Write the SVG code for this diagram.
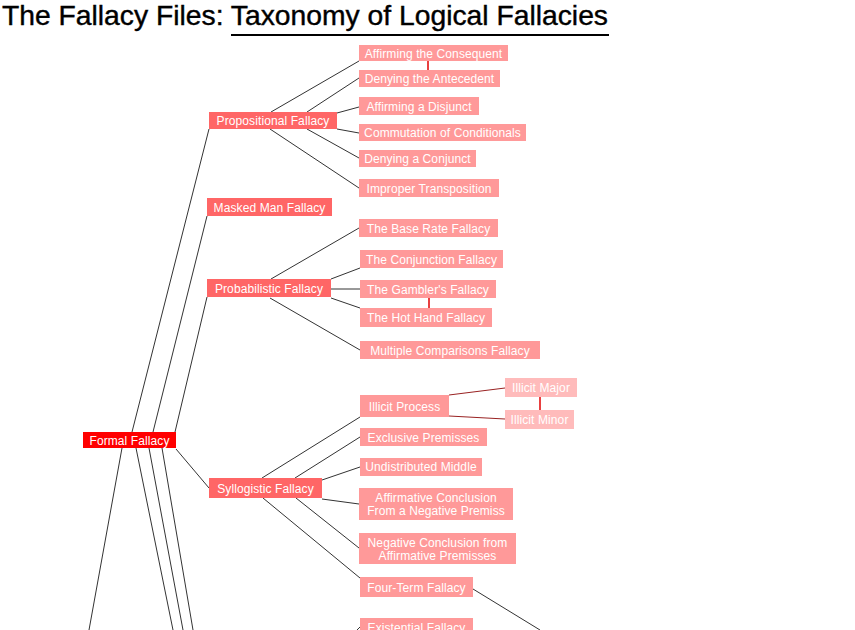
<svg xmlns="http://www.w3.org/2000/svg" width="855" height="630" viewBox="0 0 855 630">
<style>
text{font-family:"Liberation Sans",Arial,sans-serif}
.t{font-size:12px;fill:#fff;text-anchor:middle;letter-spacing:0.1px}
.r0{fill:#ff0000}.r1{fill:#ff6666}.r2{fill:#ff9999}.r3{fill:#ffbbbb}
.c line{stroke:#333;stroke-width:1}
.c .red{stroke:#e00000;stroke-width:1.5}
.c .dr{stroke:#992222;stroke-width:1}
</style>
<rect width="855" height="630" fill="#fff"/>
<text x="2" y="25" font-size="28" fill="#000" stroke="#000" stroke-width="0.4" textLength="606" lengthAdjust="spacingAndGlyphs">The Fallacy Files: Taxonomy of Logical Fallacies</text>
<line x1="231" y1="35" x2="609" y2="35" stroke="#000" stroke-width="2"/>
<g class="c" id="connectors">
<line x1="132" y1="432" x2="209" y2="129"/>
<line x1="153" y1="432" x2="207" y2="216"/>
<line x1="175" y1="432" x2="207" y2="297"/>
<line x1="176" y1="449" x2="209" y2="488"/>
<line x1="122" y1="448" x2="89" y2="630"/>
<line x1="136" y1="448" x2="173" y2="630"/>
<line x1="149" y1="448" x2="183" y2="630"/>
<line x1="162" y1="448" x2="193" y2="630"/>
<line x1="271" y1="112" x2="359" y2="61"/>
<line x1="307" y1="112" x2="359" y2="78"/>
<line x1="337" y1="113" x2="359" y2="107"/>
<line x1="337" y1="129" x2="359" y2="133"/>
<line x1="307" y1="129" x2="359" y2="158"/>
<line x1="270" y1="129" x2="359" y2="188"/>
<line x1="271" y1="279" x2="359" y2="228"/>
<line x1="331" y1="279" x2="360" y2="268"/>
<line x1="331" y1="289" x2="360" y2="289"/>
<line x1="331" y1="298" x2="360" y2="308"/>
<line x1="270" y1="298" x2="360" y2="350"/>
<line x1="262" y1="478" x2="360" y2="417"/>
<line x1="295" y1="478" x2="360" y2="437"/>
<line x1="322" y1="480" x2="360" y2="467"/>
<line x1="322" y1="499" x2="359" y2="504"/>
<line x1="296" y1="498" x2="359" y2="548"/>
<line x1="263" y1="498" x2="360" y2="578"/>
<line x1="357" y1="630" x2="360" y2="627"/>
<line x1="473" y1="589" x2="540" y2="630"/>
<line class="dr" x1="449" y1="395" x2="505" y2="388"/>
<line class="dr" x1="449" y1="416" x2="505" y2="419"/>
<line class="red" x1="428" y1="61" x2="428" y2="70"/>
<line class="red" x1="429" y1="298" x2="429" y2="308"/>
<line class="red" x1="540" y1="397" x2="540" y2="410"/>
</g>
<g id="formal"><rect class="r0" x="83" y="432" width="93" height="16"/><text class="t" x="129.5" y="444.5">Formal Fallacy</text></g>
<g id="propositional"><rect class="r1" x="209" y="112" width="128" height="17"/><text class="t" x="273" y="125">Propositional Fallacy</text></g>
<g id="masked"><rect class="r1" x="207" y="198" width="125" height="18"/><text class="t" x="269.5" y="211.5">Masked Man Fallacy</text></g>
<g id="probabilistic"><rect class="r1" x="207" y="279" width="124" height="18"/><text class="t" x="269" y="292.5">Probabilistic Fallacy</text></g>
<g id="syllogistic"><rect class="r1" x="209" y="478" width="113" height="20"/><text class="t" x="265.5" y="492.5">Syllogistic Fallacy</text></g>
<g id="aff-cons"><rect class="r2" x="359" y="45" width="149" height="16"/><text class="t" x="433.5" y="57.5">Affirming the Consequent</text></g>
<g id="deny-ante"><rect class="r2" x="359" y="70" width="141" height="17"/><text class="t" x="429.5" y="83">Denying the Antecedent</text></g>
<g id="aff-disj"><rect class="r2" x="359" y="97" width="120" height="18"/><text class="t" x="419" y="110.5">Affirming a Disjunct</text></g>
<g id="commut"><rect class="r2" x="359" y="124" width="167" height="17"/><text class="t" x="442.5" y="137">Commutation of Conditionals</text></g>
<g id="deny-conj"><rect class="r2" x="359" y="150" width="117" height="17"/><text class="t" x="417.5" y="163">Denying a Conjunct</text></g>
<g id="improper"><rect class="r2" x="359" y="179" width="140" height="18"/><text class="t" x="429" y="192.5">Improper Transposition</text></g>
<g id="base-rate"><rect class="r2" x="359" y="219" width="139" height="18"/><text class="t" x="428.5" y="232.5">The Base Rate Fallacy</text></g>
<g id="conjunction"><rect class="r2" x="360" y="250" width="143" height="18"/><text class="t" x="431.5" y="263.5">The Conjunction Fallacy</text></g>
<g id="gambler"><rect class="r2" x="360" y="280" width="136" height="18"/><text class="t" x="428" y="293.5">The Gambler's Fallacy</text></g>
<g id="hot-hand"><rect class="r2" x="360" y="308" width="132" height="19"/><text class="t" x="426" y="322">The Hot Hand Fallacy</text></g>
<g id="multiple"><rect class="r2" x="360" y="341" width="180" height="18"/><text class="t" x="450" y="354.5">Multiple Comparisons Fallacy</text></g>
<g id="illicit-process"><rect class="r2" x="360" y="395" width="89" height="22"/><text class="t" x="404.5" y="410.5">Illicit Process</text></g>
<g id="illicit-major"><rect class="r3" x="505" y="378" width="72" height="19"/><text class="t" x="541" y="392">Illicit Major</text></g>
<g id="illicit-minor"><rect class="r3" x="505" y="410" width="69" height="19"/><text class="t" x="539.5" y="424">Illicit Minor</text></g>
<g id="exclusive"><rect class="r2" x="360" y="428" width="127" height="18"/><text class="t" x="423.5" y="441.5">Exclusive Premisses</text></g>
<g id="undistributed"><rect class="r2" x="360" y="458" width="122" height="18"/><text class="t" x="421" y="471">Undistributed Middle</text></g>
<g id="aff-concl"><rect class="r2" x="359" y="488" width="154" height="32"/><text class="t" x="436" y="501.5">Affirmative Conclusion</text><text class="t" x="436" y="514.5">From a Negative Premiss</text></g>
<g id="neg-concl"><rect class="r2" x="359" y="533" width="157" height="31"/><text class="t" x="437.5" y="546.5">Negative Conclusion from</text><text class="t" x="437.5" y="559.5">Affirmative Premisses</text></g>
<g id="four-term"><rect class="r2" x="360" y="577" width="113" height="20"/><text class="t" x="416.5" y="591.5">Four-Term Fallacy</text></g>
<g id="existential"><rect class="r2" x="360" y="618" width="113" height="22"/><text class="t" x="416.5" y="632">Existential Fallacy</text></g>
</svg>
